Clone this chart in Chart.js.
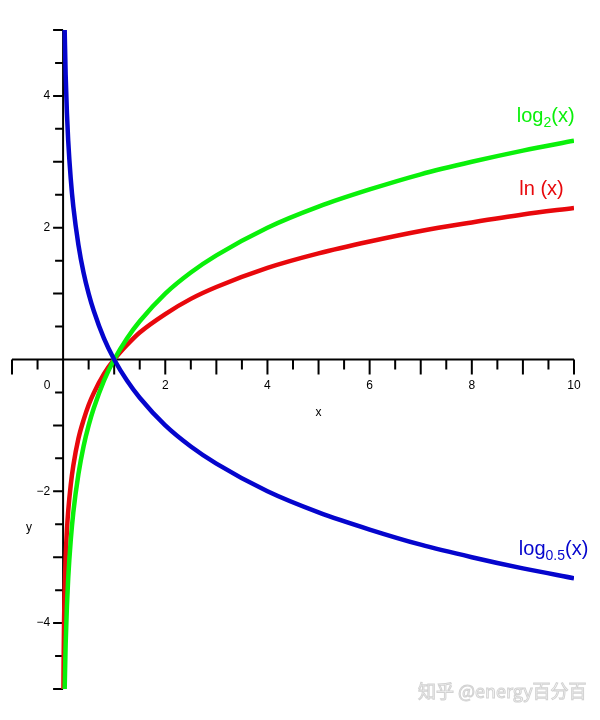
<!DOCTYPE html>
<html>
<head>
<meta charset="utf-8">
<script src="https://cdn.jsdelivr.net/npm/chart.js@4/dist/chart.umd.min.js"></script>
<style>
  html, body { margin: 0; background: #fff; }
</style>
</head>
<body>
<canvas id="grafico" width="600" height="720"></canvas>
<script>
// valores
const xLn = [0.0067, 0.01, 0.02, 0.03, 0.05, 0.075, 0.1, 0.15, 0.2, 0.3, 0.4, 0.5, 0.6, 0.8, 1, 1.25, 1.5, 2, 2.5, 3, 4, 5, 6, 7, 8, 9, 10];
const yLn = [-5, -4.61, -3.91, -3.51, -3.0, -2.59, -2.3, -1.9, -1.61, -1.2, -0.92, -0.69, -0.51, -0.22, 0, 0.22, 0.41, 0.69, 0.92, 1.1, 1.39, 1.61, 1.79, 1.95, 2.08, 2.2, 2.3];

const xLog2 = [0.031, 0.05, 0.075, 0.1, 0.15, 0.2, 0.3, 0.4, 0.5, 0.6, 0.8, 1, 1.25, 1.5, 2, 2.5, 3, 4, 5, 6, 7, 8, 9, 10];
const yLog2 = [-5, -4.32, -3.74, -3.32, -2.74, -2.32, -1.74, -1.32, -1, -0.74, -0.32, 0, 0.32, 0.58, 1, 1.32, 1.58, 2, 2.32, 2.58, 2.81, 3, 3.17, 3.32];

const xLogMeio = [0.031, 0.05, 0.075, 0.1, 0.15, 0.2, 0.3, 0.4, 0.5, 0.6, 0.8, 1, 1.25, 1.5, 2, 2.5, 3, 4, 5, 6, 7, 8, 9, 10];
const yLogMeio = [5, 4.32, 3.74, 3.32, 2.74, 2.32, 1.74, 1.32, 1, 0.74, 0.32, 0, -0.32, -0.58, -1, -1.32, -1.58, -2, -2.32, -2.58, -2.81, -3, -3.17, -3.32];

const marcasX = [2, 4, 6, 8, 10];
const marcasY = [4, 2, -2, -4];

const verde = "rgb(10, 240, 10)";
const vermelho = "rgb(232, 8, 12)";
const azul = "rgb(5, 5, 205)";

function pontos(xs, ys) {
  return xs.map((x, i) => ({ x: x, y: ys[i] }));
}

const fonte = "'Liberation Sans', Arial, sans-serif";

// eixos cruzando na origem, com marcas maiores nos inteiros
const eixos = {
  id: "eixos",
  beforeDatasetsDraw(chart) {
    const { ctx, scales: { x, y } } = chart;
    const x0 = x.getPixelForValue(0);
    const y0 = y.getPixelForValue(0);
    ctx.save();
    ctx.strokeStyle = "#000";
    ctx.lineWidth = 2;
    ctx.beginPath();
    ctx.moveTo(x.getPixelForValue(x.min), y0);
    ctx.lineTo(x.getPixelForValue(x.max), y0);
    ctx.moveTo(x0, y.getPixelForValue(y.max));
    ctx.lineTo(x0, y.getPixelForValue(y.min));
    for (let v = x.min; v <= x.max; v += 0.5) {
      if (v === 0) continue;
      const px = x.getPixelForValue(v);
      const len = Number.isInteger(v) ? 15 : 10;
      ctx.moveTo(px, y0);
      ctx.lineTo(px, y0 + len);
    }
    for (let v = y.min; v <= y.max; v += 0.5) {
      if (v === 0) continue;
      const py = y.getPixelForValue(v);
      const len = Number.isInteger(v) ? 10 : 8;
      ctx.moveTo(x0, py);
      ctx.lineTo(x0 - len, py);
    }
    ctx.stroke();

    ctx.fillStyle = "#000";
    ctx.font = "12px " + fonte;
    ctx.textAlign = "center";
    ctx.textBaseline = "middle";
    marcasX.forEach(v => ctx.fillText(String(v), x.getPixelForValue(v), y0 + 26));
    ctx.fillText("0", x0 - 16, y0 + 26);
    ctx.textAlign = "right";
    marcasY.forEach(v => {
      const txt = v < 0 ? "\u2212" + Math.abs(v) : String(v);
      ctx.fillText(txt, x0 - 13, y.getPixelForValue(v));
    });
    ctx.textAlign = "center";
    ctx.fillText("x", x.getPixelForValue(5), y0 + 53);
    ctx.fillText("y", x0 - 34, y.getPixelForValue(-2.55));
    ctx.restore();
  }
};

function rotulo(ctx, px, py, base, sub, fim, cor) {
  ctx.fillStyle = cor;
  ctx.textAlign = "left";
  ctx.textBaseline = "alphabetic";
  ctx.font = "20px " + fonte;
  ctx.fillText(base, px, py);
  let w = ctx.measureText(base).width;
  ctx.font = "14px " + fonte;
  ctx.fillText(sub, px + w, py + 5);
  w += ctx.measureText(sub).width;
  ctx.font = "20px " + fonte;
  ctx.fillText(fim, px + w, py);
}

const rotulos = {
  id: "rotulos",
  afterDatasetsDraw(chart) {
    const { ctx, scales: { x, y } } = chart;
    ctx.save();
    rotulo(ctx, x.getPixelForValue(8.88), y.getPixelForValue(3.6), "log", "2", "(x)", verde);
    rotulo(ctx, x.getPixelForValue(8.93), y.getPixelForValue(2.49), "ln (x)", "", "", vermelho);
    rotulo(ctx, x.getPixelForValue(8.92), y.getPixelForValue(-2.96), "log", "0.5", "(x)", azul);

    // marca d'agua
    ctx.font = "18px 'Noto Sans CJK SC', sans-serif";
    ctx.textAlign = "left";
    ctx.textBaseline = "middle";
    ctx.lineWidth = 1;
    ctx.strokeStyle = "#d2d2d2";
    ctx.fillStyle = "#fff";
    ctx.fillText("知乎 @energy百分百", 418, 691);
    ctx.strokeText("知乎 @energy百分百", 418, 691);
    ctx.restore();
  }
};

const serie = (dados, cor) => ({
  data: dados,
  borderColor: cor,
  backgroundColor: cor,
  borderWidth: 4.5,
  pointRadius: 0,
  fill: false,
  cubicInterpolationMode: "monotone"
});

const grafico = new Chart(document.getElementById("grafico").getContext("2d"), {
  type: "line",
  data: {
    datasets: [
      serie(pontos(xLogMeio, yLogMeio), azul),
      serie(pontos(xLog2, yLog2), verde),
      serie(pontos(xLn, yLn), vermelho)
    ]
  },
  options: {
    responsive: false,
    animation: false,
    layout: { padding: { left: 12, right: 26, top: 30, bottom: 31 } },
    scales: {
      x: { type: "linear", min: -1, max: 10, display: false },
      y: { type: "linear", min: -5, max: 5, display: false }
    },
    plugins: {
      legend: { display: false },
      tooltip: { enabled: false }
    }
  },
  plugins: [eixos, rotulos]
});
</script>
</body>
</html>
